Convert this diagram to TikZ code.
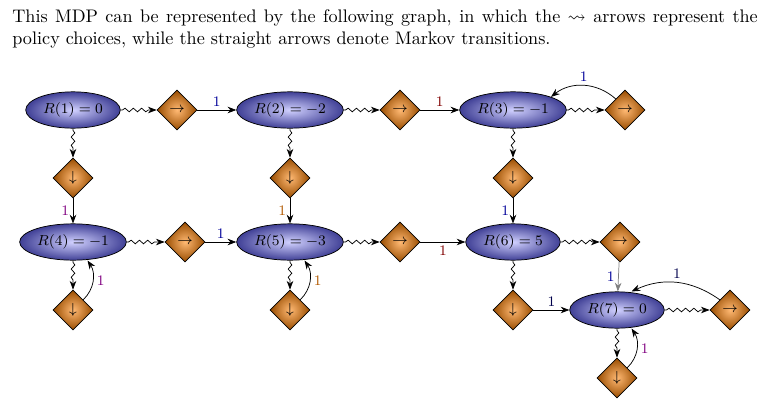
\documentclass[tikz,border=0pt]{standalone}
\usepackage{amssymb}
\usetikzlibrary{shapes.geometric,decorations.pathmorphing,arrows.meta}
\tikzset{
 st/.style={ellipse,draw,inner color=blue!18,outer color=blue!45!black!75,minimum width=52pt,minimum height=20pt,inner sep=1pt,font=\footnotesize},
 act/.style={diamond,draw,inner color=orange!55,outer color=orange!60!black,minimum size=22pt,inner sep=0pt,font=\footnotesize},
 pol/.style={->,>=Stealth,decorate,decoration={snake,amplitude=.35mm,segment length=1.6mm,pre length=1pt,post length=1.2mm}},
 tr/.style={->,>=Stealth},
 lb/.style={font=\footnotesize,inner sep=2pt}
}
\begin{document}
\begin{tikzpicture}[x=0.55pt,y=-0.55pt]
\useasboundingbox (0,0) rectangle (772,410);
\node[anchor=north west,text width=410pt,align=justify,inner sep=0pt] (txt) at (12,9) {This MDP can be represented by the following graph, in which the $\leadsto$ arrows represent the policy choices, while the straight arrows denote Markov transitions.};
\node[st] (r1) at (73,110) {$R(1)=0$};
\node[st] (r2) at (290,110) {$R(2)=-2$};
\node[st] (r3) at (513,110) {$R(3)=-1$};
\node[st] (r4) at (73,242) {$R(4)=-1$};
\node[st] (r5) at (290,242) {$R(5)=-3$};
\node[st] (r6) at (513,242) {$R(6)=5$};
\node[st] (r7) at (617,310) {$R(7)=0$};
\node[act] (a1) at (177,110) {$\rightarrow$};
\node[act] (a2) at (400,110) {$\rightarrow$};
\node[act] (a3) at (625,110) {$\rightarrow$};
\node[act] (b1) at (73,178) {$\downarrow$};
\node[act] (b2) at (290,178) {$\downarrow$};
\node[act] (b3) at (513,178) {$\downarrow$};
\node[act] (a4) at (185,242) {$\rightarrow$};
\node[act] (a5) at (400,242) {$\rightarrow$};
\node[act] (a6) at (620,242) {$\rightarrow$};
\node[act] (b4) at (73,310) {$\downarrow$};
\node[act] (b5) at (290,310) {$\downarrow$};
\node[act] (b6) at (513,310) {$\downarrow$};
\node[act] (a7) at (730,310) {$\rightarrow$};
\node[act] (b7) at (617,378) {$\downarrow$};
% policy
\draw[pol] (r1) -- (a1); \draw[pol] (r2) -- (a2); \draw[pol] (r3) -- (a3);
\draw[pol] (r1) -- (b1); \draw[pol] (r2) -- (b2); \draw[pol] (r3) -- (b3);
\draw[pol] (r4) -- (a4); \draw[pol] (r5) -- (a5); \draw[pol] (r6) -- (a6);
\draw[pol] (r4) -- (b4); \draw[pol] (r5) -- (b5); \draw[pol] (r6) -- (b6);
\draw[pol] (r7) -- (a7); \draw[pol] (r7.south) -- (b7);
% transitions
\draw[tr] (a1) -- node[lb,above,text=blue!60!black] {1} (r2);
\draw[tr] (a2) -- node[lb,above,text=red!50!black] {1} (r3);
\draw[tr] (a3) to[bend right=40] node[lb,above,text=blue!60!black] {1} (r3.north east);
\draw[tr] (b1) -- node[lb,left,text=violet] {1} (r4);
\draw[tr] (b2) -- node[lb,left,text=orange!70!black] {1} (r5);
\draw[tr] (b3) -- node[lb,left,text=blue!60!black] {1} (r6);
\draw[tr] (a4) -- node[lb,above,text=blue!60!black] {1} (r5);
\draw[tr] (a5) -- node[lb,below,text=red!50!black] {1} (r6);
\draw[tr,gray] (a6) -- node[lb,left,text=blue!60!black] {1} (r7);
\draw[tr] (b4.north east) to[bend right=40] node[lb,right,text=violet] {1} ([xshift=8pt]r4.south);
\draw[tr] (b5.north east) to[bend right=40] node[lb,right,text=orange!70!black] {1} ([xshift=8pt]r5.south);
\draw[tr] (b6) -- node[lb,above,text=blue!30!black] {1} (r7);
\draw[tr] (a7.north west) to[bend right=30] node[lb,above,text=blue!30!black] {1} ([xshift=8pt]r7.north);
\draw[tr] (b7.north east) to[bend right=40] node[lb,right,text=violet] {1} ([xshift=8pt]r7.south);
\end{tikzpicture}
\end{document}
